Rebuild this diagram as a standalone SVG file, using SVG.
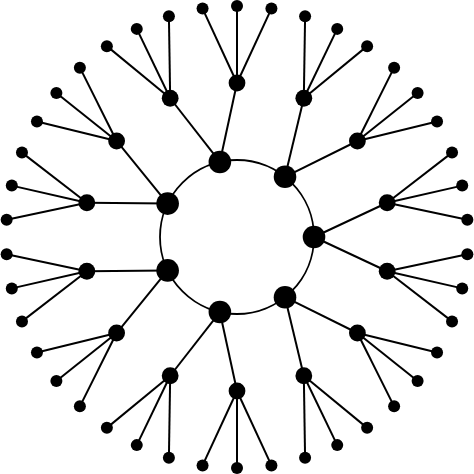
<svg xmlns="http://www.w3.org/2000/svg" width="474" height="474" viewBox="0 0 474 474">
<style>
.e{stroke:#000;stroke-width:2;fill:none}
.c{fill:#000}
.r{stroke:#000;stroke-width:1.8;fill:none}
</style>
<rect width="474" height="474" fill="#fff"/>
<g id="connectors">
<circle class="r" cx="237" cy="237" r="77"/>
<line class="e" x1="219.87" y1="161.93" x2="237" y2="83"/>
<line class="e" x1="219.87" y1="161.93" x2="170.18" y2="98.25"/>
<line class="e" x1="285.01" y1="176.8" x2="303.82" y2="98.25"/>
<line class="e" x1="285.01" y1="176.8" x2="357.4" y2="140.98"/>
<line class="e" x1="314" y1="237" x2="387.14" y2="202.73"/>
<line class="e" x1="314" y1="237" x2="387.14" y2="271.27"/>
<line class="e" x1="285.01" y1="297.2" x2="357.4" y2="333.02"/>
<line class="e" x1="285.01" y1="297.2" x2="303.82" y2="375.75"/>
<line class="e" x1="219.87" y1="312.07" x2="237" y2="391"/>
<line class="e" x1="219.87" y1="312.07" x2="170.18" y2="375.75"/>
<line class="e" x1="167.63" y1="270.41" x2="116.6" y2="333.02"/>
<line class="e" x1="167.63" y1="270.41" x2="86.86" y2="271.27"/>
<line class="e" x1="167.63" y1="203.59" x2="86.86" y2="202.73"/>
<line class="e" x1="167.63" y1="203.59" x2="116.6" y2="140.98"/>
<line class="e" x1="237" y1="83" x2="202.57" y2="8.58"/>
<line class="e" x1="237" y1="83" x2="237" y2="6"/>
<line class="e" x1="237" y1="83" x2="271.43" y2="8.58"/>
<line class="e" x1="303.82" y1="98.25" x2="305.09" y2="16.26"/>
<line class="e" x1="303.82" y1="98.25" x2="337.23" y2="28.88"/>
<line class="e" x1="303.82" y1="98.25" x2="367.13" y2="46.14"/>
<line class="e" x1="357.4" y1="140.98" x2="394.12" y2="67.67"/>
<line class="e" x1="357.4" y1="140.98" x2="417.6" y2="92.97"/>
<line class="e" x1="357.4" y1="140.98" x2="437.05" y2="121.5"/>
<line class="e" x1="387.14" y1="202.73" x2="452.03" y2="152.61"/>
<line class="e" x1="387.14" y1="202.73" x2="462.21" y2="185.6"/>
<line class="e" x1="387.14" y1="202.73" x2="467.35" y2="219.74"/>
<line class="e" x1="387.14" y1="271.27" x2="467.35" y2="254.26"/>
<line class="e" x1="387.14" y1="271.27" x2="462.21" y2="288.4"/>
<line class="e" x1="387.14" y1="271.27" x2="452.03" y2="321.39"/>
<line class="e" x1="357.4" y1="333.02" x2="437.05" y2="352.5"/>
<line class="e" x1="357.4" y1="333.02" x2="417.6" y2="381.03"/>
<line class="e" x1="357.4" y1="333.02" x2="394.12" y2="406.33"/>
<line class="e" x1="303.82" y1="375.75" x2="367.13" y2="427.86"/>
<line class="e" x1="303.82" y1="375.75" x2="337.23" y2="445.12"/>
<line class="e" x1="303.82" y1="375.75" x2="305.09" y2="457.74"/>
<line class="e" x1="237" y1="391" x2="271.43" y2="465.42"/>
<line class="e" x1="237" y1="391" x2="237" y2="468"/>
<line class="e" x1="237" y1="391" x2="202.57" y2="465.42"/>
<line class="e" x1="170.18" y1="375.75" x2="168.91" y2="457.74"/>
<line class="e" x1="170.18" y1="375.75" x2="136.77" y2="445.12"/>
<line class="e" x1="170.18" y1="375.75" x2="106.87" y2="427.86"/>
<line class="e" x1="116.6" y1="333.02" x2="79.88" y2="406.33"/>
<line class="e" x1="116.6" y1="333.02" x2="56.4" y2="381.03"/>
<line class="e" x1="116.6" y1="333.02" x2="36.95" y2="352.5"/>
<line class="e" x1="86.86" y1="271.27" x2="21.97" y2="321.39"/>
<line class="e" x1="86.86" y1="271.27" x2="11.79" y2="288.4"/>
<line class="e" x1="86.86" y1="271.27" x2="6.65" y2="254.26"/>
<line class="e" x1="86.86" y1="202.73" x2="6.65" y2="219.74"/>
<line class="e" x1="86.86" y1="202.73" x2="11.79" y2="185.6"/>
<line class="e" x1="86.86" y1="202.73" x2="21.97" y2="152.61"/>
<line class="e" x1="116.6" y1="140.98" x2="36.95" y2="121.5"/>
<line class="e" x1="116.6" y1="140.98" x2="56.4" y2="92.97"/>
<line class="e" x1="116.6" y1="140.98" x2="79.88" y2="67.67"/>
<line class="e" x1="170.18" y1="98.25" x2="106.87" y2="46.14"/>
<line class="e" x1="170.18" y1="98.25" x2="136.77" y2="28.88"/>
<line class="e" x1="170.18" y1="98.25" x2="168.91" y2="16.26"/>
</g>
<g id="c0"><circle class="c" cx="314" cy="237" r="11.3"/></g>
<g id="c1"><circle class="c" cx="285.01" cy="176.8" r="11.3"/></g>
<g id="c2"><circle class="c" cx="219.87" cy="161.93" r="11.3"/></g>
<g id="c3"><circle class="c" cx="167.63" cy="203.59" r="11.3"/></g>
<g id="c4"><circle class="c" cx="167.63" cy="270.41" r="11.3"/></g>
<g id="c5"><circle class="c" cx="219.87" cy="312.07" r="11.3"/></g>
<g id="c6"><circle class="c" cx="285.01" cy="297.2" r="11.3"/></g>
<g id="s0"><circle class="c" cx="237" cy="83" r="8.4"/></g>
<g id="s1"><circle class="c" cx="303.82" cy="98.25" r="8.4"/></g>
<g id="s2"><circle class="c" cx="357.4" cy="140.98" r="8.4"/></g>
<g id="s3"><circle class="c" cx="387.14" cy="202.73" r="8.4"/></g>
<g id="s4"><circle class="c" cx="387.14" cy="271.27" r="8.4"/></g>
<g id="s5"><circle class="c" cx="357.4" cy="333.02" r="8.4"/></g>
<g id="s6"><circle class="c" cx="303.82" cy="375.75" r="8.4"/></g>
<g id="s7"><circle class="c" cx="237" cy="391" r="8.4"/></g>
<g id="s8"><circle class="c" cx="170.18" cy="375.75" r="8.4"/></g>
<g id="s9"><circle class="c" cx="116.6" cy="333.02" r="8.4"/></g>
<g id="s10"><circle class="c" cx="86.86" cy="271.27" r="8.4"/></g>
<g id="s11"><circle class="c" cx="86.86" cy="202.73" r="8.4"/></g>
<g id="s12"><circle class="c" cx="116.6" cy="140.98" r="8.4"/></g>
<g id="s13"><circle class="c" cx="170.18" cy="98.25" r="8.4"/></g>
<g id="l0"><circle class="c" cx="237" cy="6" r="6"/></g>
<g id="l1"><circle class="c" cx="271.43" cy="8.58" r="6"/></g>
<g id="l2"><circle class="c" cx="305.09" cy="16.26" r="6"/></g>
<g id="l3"><circle class="c" cx="337.23" cy="28.88" r="6"/></g>
<g id="l4"><circle class="c" cx="367.13" cy="46.14" r="6"/></g>
<g id="l5"><circle class="c" cx="394.12" cy="67.67" r="6"/></g>
<g id="l6"><circle class="c" cx="417.6" cy="92.97" r="6"/></g>
<g id="l7"><circle class="c" cx="437.05" cy="121.5" r="6"/></g>
<g id="l8"><circle class="c" cx="452.03" cy="152.61" r="6"/></g>
<g id="l9"><circle class="c" cx="462.21" cy="185.6" r="6"/></g>
<g id="l10"><circle class="c" cx="467.35" cy="219.74" r="6"/></g>
<g id="l11"><circle class="c" cx="467.35" cy="254.26" r="6"/></g>
<g id="l12"><circle class="c" cx="462.21" cy="288.4" r="6"/></g>
<g id="l13"><circle class="c" cx="452.03" cy="321.39" r="6"/></g>
<g id="l14"><circle class="c" cx="437.05" cy="352.5" r="6"/></g>
<g id="l15"><circle class="c" cx="417.6" cy="381.03" r="6"/></g>
<g id="l16"><circle class="c" cx="394.12" cy="406.33" r="6"/></g>
<g id="l17"><circle class="c" cx="367.13" cy="427.86" r="6"/></g>
<g id="l18"><circle class="c" cx="337.23" cy="445.12" r="6"/></g>
<g id="l19"><circle class="c" cx="305.09" cy="457.74" r="6"/></g>
<g id="l20"><circle class="c" cx="271.43" cy="465.42" r="6"/></g>
<g id="l21"><circle class="c" cx="237" cy="468" r="6"/></g>
<g id="l22"><circle class="c" cx="202.57" cy="465.42" r="6"/></g>
<g id="l23"><circle class="c" cx="168.91" cy="457.74" r="6"/></g>
<g id="l24"><circle class="c" cx="136.77" cy="445.12" r="6"/></g>
<g id="l25"><circle class="c" cx="106.87" cy="427.86" r="6"/></g>
<g id="l26"><circle class="c" cx="79.88" cy="406.33" r="6"/></g>
<g id="l27"><circle class="c" cx="56.4" cy="381.03" r="6"/></g>
<g id="l28"><circle class="c" cx="36.95" cy="352.5" r="6"/></g>
<g id="l29"><circle class="c" cx="21.97" cy="321.39" r="6"/></g>
<g id="l30"><circle class="c" cx="11.79" cy="288.4" r="6"/></g>
<g id="l31"><circle class="c" cx="6.65" cy="254.26" r="6"/></g>
<g id="l32"><circle class="c" cx="6.65" cy="219.74" r="6"/></g>
<g id="l33"><circle class="c" cx="11.79" cy="185.6" r="6"/></g>
<g id="l34"><circle class="c" cx="21.97" cy="152.61" r="6"/></g>
<g id="l35"><circle class="c" cx="36.95" cy="121.5" r="6"/></g>
<g id="l36"><circle class="c" cx="56.4" cy="92.97" r="6"/></g>
<g id="l37"><circle class="c" cx="79.88" cy="67.67" r="6"/></g>
<g id="l38"><circle class="c" cx="106.87" cy="46.14" r="6"/></g>
<g id="l39"><circle class="c" cx="136.77" cy="28.88" r="6"/></g>
<g id="l40"><circle class="c" cx="168.91" cy="16.26" r="6"/></g>
<g id="l41"><circle class="c" cx="202.57" cy="8.58" r="6"/></g>
</svg>
